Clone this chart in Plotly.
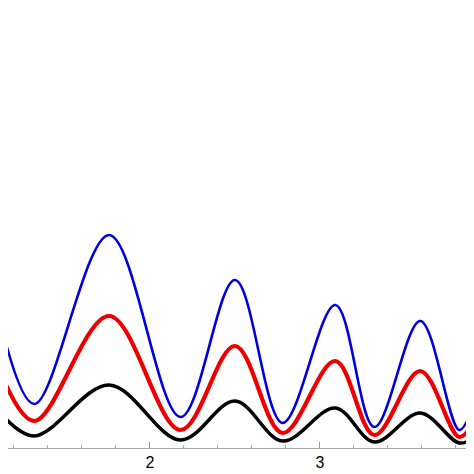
import plotly.graph_objects as go

# extrema (x in axis units, y in height above the axis)
x = [1.12, 1.32, 1.76, 2.18, 2.50, 2.78, 3.09, 3.32, 3.59, 3.82, 3.91]
blue = [126, 44, 213, 31, 168, 25, 143, 21, 127, 18, 48]
red = [76, 27, 132, 18, 102, 15, 87, 13, 77, 11, 28]
black = [35, 12, 63, 8, 47, 7, 40, 6, 35, 5, 11]

fig = go.Figure()
for y, c, w in [(black, "black", 3.5), (red, "#ee0000", 4.2), (blue, "#0000dd", 2.6)]:
    fig.add_trace(go.Scatter(x=x, y=y, mode="lines", line=dict(color=c, width=w, shape="spline", smoothing=1.0),
                             showlegend=False, cliponaxis=True))

fig.update_layout(
    width=466, height=466, margin=dict(l=0, r=0, t=0, b=26),
    plot_bgcolor="white", paper_bgcolor="white",
    xaxis=dict(range=[1.165, 3.906], tickvals=[2, 3], ticks="inside", ticklen=6, tickcolor="#999",
               showline=True, linecolor="#aaa", linewidth=1, showgrid=False, zeroline=False,
               minor=dict(dtick=0.2, ticks="inside", ticklen=3, tickcolor="#aaa"),
               tickfont=dict(family="Liberation Sans", size=16, color="black")),
    yaxis=dict(range=[0, 440], visible=False),
)
fig.write_html("out.html")
